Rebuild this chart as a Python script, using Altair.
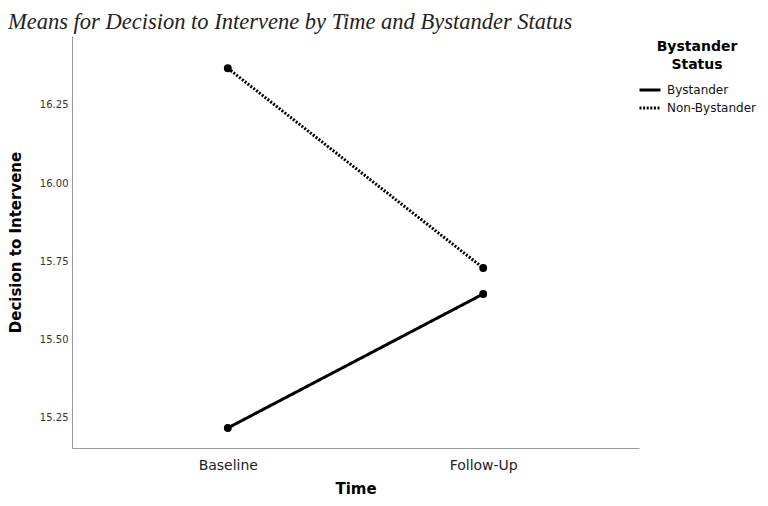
import altair as alt
import pandas as pd

times = ["Baseline", "Follow-Up"]
groups = ["Bystander", "Non-Bystander"]
bystander_means = [15.218, 15.646]
non_bystander_means = [16.367, 15.729]
y_ticks = [15.25, 15.50, 15.75, 16.00, 16.25]

rows = []
for t, v in zip(times, bystander_means):
    rows.append({"Time": t, "Status": "Bystander", "Mean": v})
for t, v in zip(times, non_bystander_means):
    rows.append({"Time": t, "Status": "Non-Bystander", "Mean": v})
df = pd.DataFrame(rows)

FONT = "DejaVu Sans"

x_enc = alt.X(
    "Time:N",
    sort=times,
    scale=alt.Scale(type="point", padding=0.61),
    axis=alt.Axis(
        title="Time", labelAngle=0, ticks=False, grid=False,
        domainColor="#9a9a9a", labelFontSize=14, labelColor="#222222",
        labelPadding=10, titleFontSize=15, titleFontWeight="bold",
        titlePadding=9, labelFont=FONT, titleFont=FONT,
    ),
)
y_enc = alt.Y(
    "Mean:Q",
    scale=alt.Scale(domain=[15.154, 16.47], nice=False, zero=False),
    axis=alt.Axis(
        title="Decision to Intervene", values=y_ticks, format=".2f",
        ticks=False, grid=False, domainColor="#9a9a9a",
        labelFontSize=10, labelColor="#333333", labelPadding=4,
        titleFontSize=15, titleFontWeight="bold", titlePadding=16,
        labelFont=FONT, titleFont=FONT,
    ),
)

lines = alt.Chart(df).mark_line(color="black", strokeWidth=3, strokeCap="butt").encode(
    x=x_enc,
    y=y_enc,
    strokeDash=alt.StrokeDash(
        "Status:N",
        scale=alt.Scale(domain=groups, range=[[1, 0], [2, 1.6]]),
        legend=alt.Legend(
            title=["Bystander", "Status"], orient="none", legendX=566, legendY=4,
            titleFontSize=14, titleFontWeight="bold", titleAnchor="middle",
            titleAlign="center", titleLineHeight=18, titlePadding=6,
            labelFontSize=12, labelFont=FONT, titleFont=FONT, labelColor="#111111",
            symbolType="stroke", symbolStrokeColor="black", symbolStrokeWidth=3,
            symbolSize=441, labelOffset=5, rowPadding=-4,
        ),
    ),
)

points = alt.Chart(df).mark_point(filled=True, color="black", size=62, opacity=1).encode(
    x=x_enc, y=y_enc, detail="Status:N"
)

chart = (
    alt.layer(lines, points)
    .properties(
        width=567,
        height=412,
        autosize=alt.AutoSizeParams(type="none"),
        padding={"left": 64, "top": 28, "right": 121, "bottom": 50},
        title=alt.TitleParams(
            "Means for Decision to Intervene by Time and Bystander Status",
            anchor="start", frame="group", dx=-64, offset=3, font="Liberation Serif",
            fontStyle="italic", fontWeight="normal", fontSize=22.5, color="#222222",
        ),
    )
    .configure_view(stroke=None)
)

chart.save("out.html", embed_options={"renderer": "svg", "actions": False})
